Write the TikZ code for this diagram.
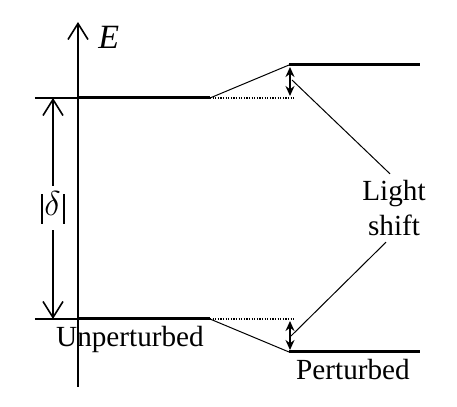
\documentclass[tikz,border=0pt]{standalone}
\usepackage{fontspec}
\setmainfont{Liberation Serif}
\usetikzlibrary{arrows.meta}

\begin{document}
\begin{tikzpicture}[
    x=0.5pt, y=-0.5pt,
    axis/.style={line width=0.8pt, -{Straight Barb[length=8pt, width=10pt]}},
    gap/.style={line width=0.8pt, {Straight Barb[length=8pt, width=10pt]}-{Straight Barb[length=8pt, width=10pt]}},
    level/.style={line width=1.5pt},
    stub/.style={line width=0.8pt},
    guide/.style={line width=0.5pt},
    dots/.style={line width=0.6pt, dash pattern=on 0.6pt off 0.7pt},
    shiftarrow/.style={line width=0.8pt, {Stealth[length=5pt, width=4.5pt]}-{Stealth[length=5pt, width=4.5pt]}},
    txt/.style={font=\fontsize{14.6}{17.5}\selectfont, inner sep=3pt}
  ]

    \useasboundingbox (0,0) rectangle (457,407);

    % Energy axis
    \coordinate (ax0) at (78,387);
    \coordinate (ax1) at (78,22);
    \draw[axis] (ax0) -- (ax1);
    \node[txt, font=\fontsize{17}{20}\selectfont, anchor=west] (E) at (92,37) {\textit{E}};

    % The two levels: unperturbed (left) and perturbed (right)
    \foreach \i/\yu/\yp in {1/98/65, 2/319/352} {
      \coordinate (s\i) at (35,\yu);
      \coordinate (a\i) at (78,\yu);
      \coordinate (u\i) at (210,\yu);
      \coordinate (d\i) at (295,\yu);
      \coordinate (p\i) at (289,\yp);
      \coordinate (q\i) at (420,\yp);
      \draw[stub] (s\i) -- (a\i);
      \draw[level] (a\i) -- (u\i);
      \draw[dots] (u\i) -- (d\i);
      \draw[guide] (u\i) -- (p\i);
      \draw[level] (p\i) -- (q\i);
    }

    % Light shift arrows
    \coordinate (h1t) at (290,67);
    \coordinate (h1b) at (290,96);
    \coordinate (h2t) at (290,321);
    \coordinate (h2b) at (290,350);
    \draw[shiftarrow] (h1t) -- (h1b);
    \draw[shiftarrow] (h2t) -- (h2b);

    % Splitting of the unperturbed levels
    \coordinate (dtop) at (53,98);
    \coordinate (dbot) at (53,319);
    \draw[gap] (dtop) -- (dbot);
    \node[txt, fill=white, font=\fontsize{18}{20}\selectfont] (delta) at (53,208)
      {\rule[-4pt]{1.3pt}{15pt}\kern0.5pt$\delta$\kern1pt\rule[-4pt]{1.3pt}{15pt}};

    % Labels
    \node[txt, anchor=base] (unpert) at (130,347) {Unperturbed};
    \node[txt, anchor=base] (pert) at (353,380) {Perturbed};
    \node[txt, align=center] (light) at (394,208) {Light\\shift};

    % Leaders from the label to the shift arrows
    \coordinate (lead1) at (292,80);
    \coordinate (lead2) at (291,336);
    \draw[guide] ([xshift=-2pt]light.north) -- (lead1);
    \draw[guide] ([xshift=-4pt]light.south) -- (lead2);

  \end{tikzpicture}
\end{document}
